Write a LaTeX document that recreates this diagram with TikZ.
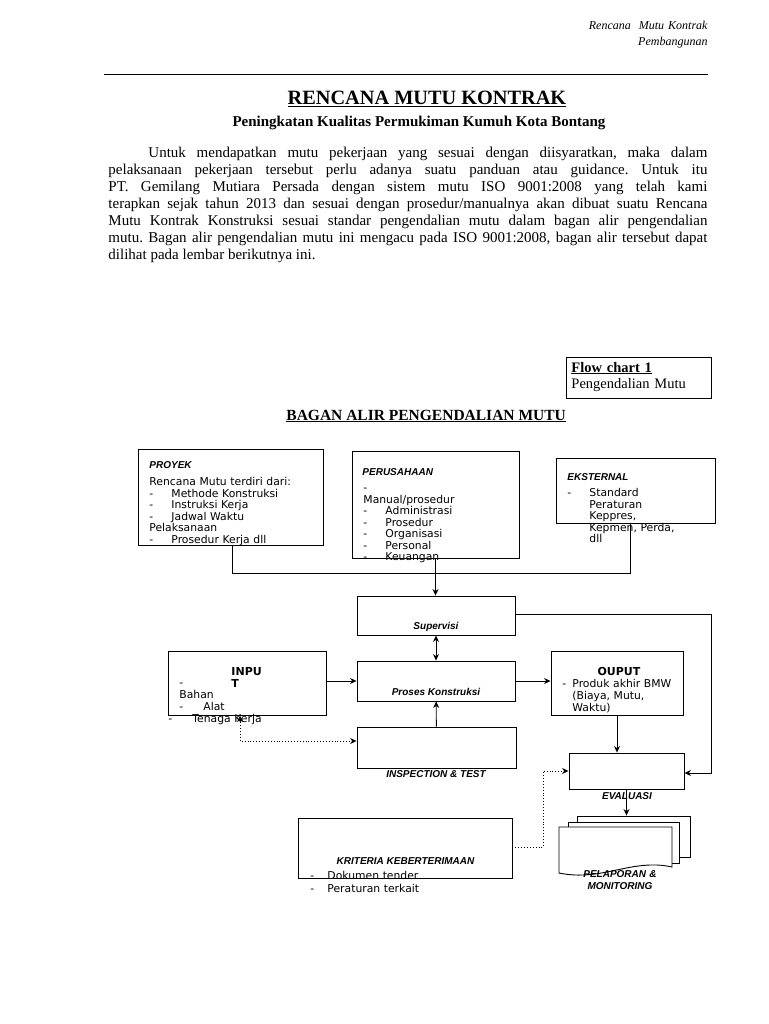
\documentclass[tikz,border=0pt]{standalone}
\usepackage{fontspec}
\setmainfont{Liberation Serif}
\newfontfamily\kotakfont{DejaVu Sans}
\newfontfamily\miringfont{Liberation Sans}
\usepackage{tikz}
\usetikzlibrary{arrows.meta}
\newcommand{\butir}[2][22pt]{\makebox[#1][l]{-}#2}
\frenchspacing

\begin{document}
\begin{tikzpicture}[x=1pt,y=-1pt,>={Stealth[length=6.5pt,width=6pt]},line width=0.9pt,
    kotak/.style={draw=black,rectangle,inner sep=0pt,fill=white},
    isi/.style={font=\kotakfont\fontsize{10.8}{11.5}\selectfont,text width=200pt,align=left,inner sep=0pt,anchor=base west},
    tebal/.style={font=\kotakfont\bfseries\fontsize{11}{11.5}\selectfont,inner sep=0pt,anchor=base},
    miring/.style={font=\miringfont\bfseries\itshape\fontsize{10}{11.5}\selectfont,inner sep=0pt,anchor=base},
    titik/.style={dotted}]
  \useasboundingbox (0,0) rectangle (768,1024);

  % kepala halaman
  \node[font=\itshape\fontsize{12}{16}\selectfont,text width=150pt,align=right,anchor=base east,inner sep=0pt] (kepala) at (708,30) {Rencana\ \ Mutu Kontrak\\Pembangunan};
  \draw[line width=1pt] (104,75) -- (708,75);
  \node[font=\bfseries\fontsize{20.3}{24}\selectfont,anchor=base,inner sep=0pt] (judul) at (427,105) {\underline{RENCANA MUTU KONTRAK}};
  \node[font=\bfseries\fontsize{15}{18}\selectfont,anchor=base,inner sep=0pt] (subjudul) at (419,127) {Peningkatan Kualitas Permukiman Kumuh Kota Bontang};
  \node[font=\fontsize{15}{17}\selectfont,text width=599pt,align=justify,anchor=base west,inner sep=0pt] (paragraf) at (108,158)
    {\hspace*{40pt}Untuk mendapatkan mutu pekerjaan yang sesuai dengan diisyaratkan, maka dalam\linebreak
     pelaksanaan pekerjaan tersebut perlu adanya suatu panduan atau guidance. Untuk itu\linebreak
     PT. Gemilang Mutiara Persada dengan sistem mutu ISO 9001:2008 yang telah kami\linebreak
     terapkan sejak tahun 2013 dan sesuai dengan prosedur/manualnya akan dibuat suatu Rencana\linebreak
     Mutu Kontrak Konstruksi sesuai standar pengendalian mutu dalam bagan alir pengendalian\linebreak
     mutu. Bagan alir pengendalian mutu ini mengacu pada ISO 9001:2008, bagan alir tersebut dapat\linebreak
     dilihat pada lembar berikutnya ini.};

  % label flow chart
  \node[kotak,minimum width=145pt,minimum height=41pt] (label) at (638.5,377.5) {};
  \node[font=\fontsize{14.5}{16}\selectfont,text width=140pt,align=left,anchor=base west,inner sep=0pt] (labelteks) at (571,372) {\textbf{\underline{Flow chart 1}}\\Pengendalian Mutu};
  \node[font=\bfseries\fontsize{15.5}{18}\selectfont,anchor=base west,inner sep=0pt] (bagan) at (286,420) {\underline{BAGAN ALIR PENGENDALIAN MUTU}};

  % kotak-kotak
  \node[kotak,minimum width=185pt,minimum height=96pt] (proyek) at (230.5,497) {};
  \node[kotak,minimum width=167pt,minimum height=107pt] (perusahaan) at (435.5,504.5) {};
  \node[kotak,minimum width=159pt,minimum height=65pt] (eksternal) at (635.5,490.5) {};
  \node[kotak,minimum width=158pt,minimum height=39pt] (supervisi) at (436,615.5) {};
  \node[kotak,minimum width=158pt,minimum height=40pt] (proses) at (436,681) {};
  \node[kotak,minimum width=158pt,minimum height=64pt] (input) at (247,683) {};
  \node[kotak,minimum width=132pt,minimum height=64pt] (ouput) at (617,683) {};
  \node[kotak,minimum width=159pt,minimum height=41pt] (inspeksi) at (436.5,747.5) {};
  \node[kotak,minimum width=115pt,minimum height=36pt] (evaluasi) at (626.5,771) {};
  \node[kotak,minimum width=214pt,minimum height=60pt] (kriteria) at (405,848) {};
  \node[kotak,minimum width=113pt,minimum height=41pt] (lapor3) at (633.5,836.5) {};
  \node[kotak,minimum width=111pt,minimum height=41pt] (lapor2) at (623.5,842.5) {};
  \draw[fill=white] (559,827) -- (672,827) -- (672,867) .. controls (632,858) and (602,882) .. (559,873) -- cycle;

  % isi kotak
  \node[miring,anchor=base west] (proyekjudul) at (149,468.5) {PROYEK};
  \node[isi] (proyekisi) at (149,485.5) {Rencana Mutu terdiri dari:\\\butir{Methode Konstruksi}\\\butir{Instruksi Kerja}\\\butir{Jadwal Waktu}\\Pelaksanaan\\\butir{Prosedur Kerja dll}};
  \node[miring,anchor=base west] (perusahaanjudul) at (362,475.5) {PERUSAHAAN};
  \node[isi] (perusahaanisi) at (363,491.5) {-\\Manual/prosedur\\\butir{Administrasi}\\\butir{Prosedur}\\\butir{Organisasi}\\\butir{Personal}\\\butir{Keuangan}};
  \node[miring,anchor=base west] (eksternaljudul) at (567,480.5) {EKSTERNAL};
  \node[isi] (eksternalisi) at (567,496.5) {\butir{Standard}\\\hspace*{22pt}Peraturan\\\hspace*{22pt}Keppres,\\\hspace*{22pt}Kepmen, Perda,\\\hspace*{22pt}dll};
  \node[miring] (supervisiteks) at (436,629.5) {Supervisi};
  \node[miring] (prosesteks) at (436,695.5) {Proses Konstruksi};
  \node[tebal,anchor=base west,text width=40pt,align=left] (inputjudul) at (231,675.5) {INPU\\T};
  \node[isi,font=\kotakfont\fontsize{10.8}{12}\selectfont] (inputisi) at (179,686.5) {-\\Bahan\\\butir[24pt]{Alat}};
  \node[isi] (inputisi2) at (168,722.5) {\butir[24pt]{Tenaga Kerja}};
  \node[tebal] (ouputjudul) at (619,675.5) {OUPUT};
  \node[isi,font=\kotakfont\fontsize{10.8}{12}\selectfont] (ouputisi) at (562,687.5) {\butir[10pt]{Produk akhir BMW}\\\hspace*{10pt}(Biaya, Mutu,\\\hspace*{10pt}Waktu)};
  \node[miring] (inspeksiteks) at (436,777.5) {INSPECTION \& TEST};
  \node[miring] (evaluasiteks) at (627,799.5) {EVALUASI};
  \node[miring,text width=100pt,align=center] (laporteks) at (620,877.5) {PELAPORAN \&\\MONITORING};
  \node[miring] (kriteriateks) at (405.5,864.5) {KRITERIA KEBERTERIMAAN};
  \node[isi,font=\kotakfont\fontsize{10.8}{12.5}\selectfont] (kriteriaisi) at (310,879.5) {\butir[17pt]{Dokumen tender}\\\butir[17pt]{Peraturan terkait}};

  % garis hubung
  \coordinate (kiri) at (232,573);
  \coordinate (kanan) at (630,573);
  \draw (proyek.south -| kiri) -- (kiri) -- (kanan) -- (eksternal.south -| kanan);
  \draw[->] (perusahaan.south) -- (perusahaan.south |- supervisi.north);
  \draw[<->] (supervisi) -- (proses);
  \draw[->] (input.east |- proses.west) -- (proses.west);
  \draw[->] (proses.east) -- (proses.east -| ouput.west);
  \draw[->] (inspeksi) -- (proses);
  \coordinate (titikA) at (240,741);
  \draw[titik,<->] (input.south -| titikA) -- (titikA) -- (titikA -| inspeksi.west);
  \coordinate (sudutA) at (711,614);
  \coordinate (sudutB) at (711,773);
  \draw[->] (supervisi.east |- sudutA) -- (sudutA) -- (sudutB) -- (sudutB -| evaluasi.east);
  \draw[->] (ouput.south) -- (ouput.south |- evaluasi.north);
  \draw[->] (evaluasi.south) -- (evaluasi.south |- lapor3.north);
  \coordinate (titikB) at (543,847);
  \coordinate (titikC) at (543,771);
  \draw[titik,->] (kriteria.east |- titikB) -- (titikB) -- (titikC) -- (evaluasi.west);
\end{tikzpicture}
\end{document}
